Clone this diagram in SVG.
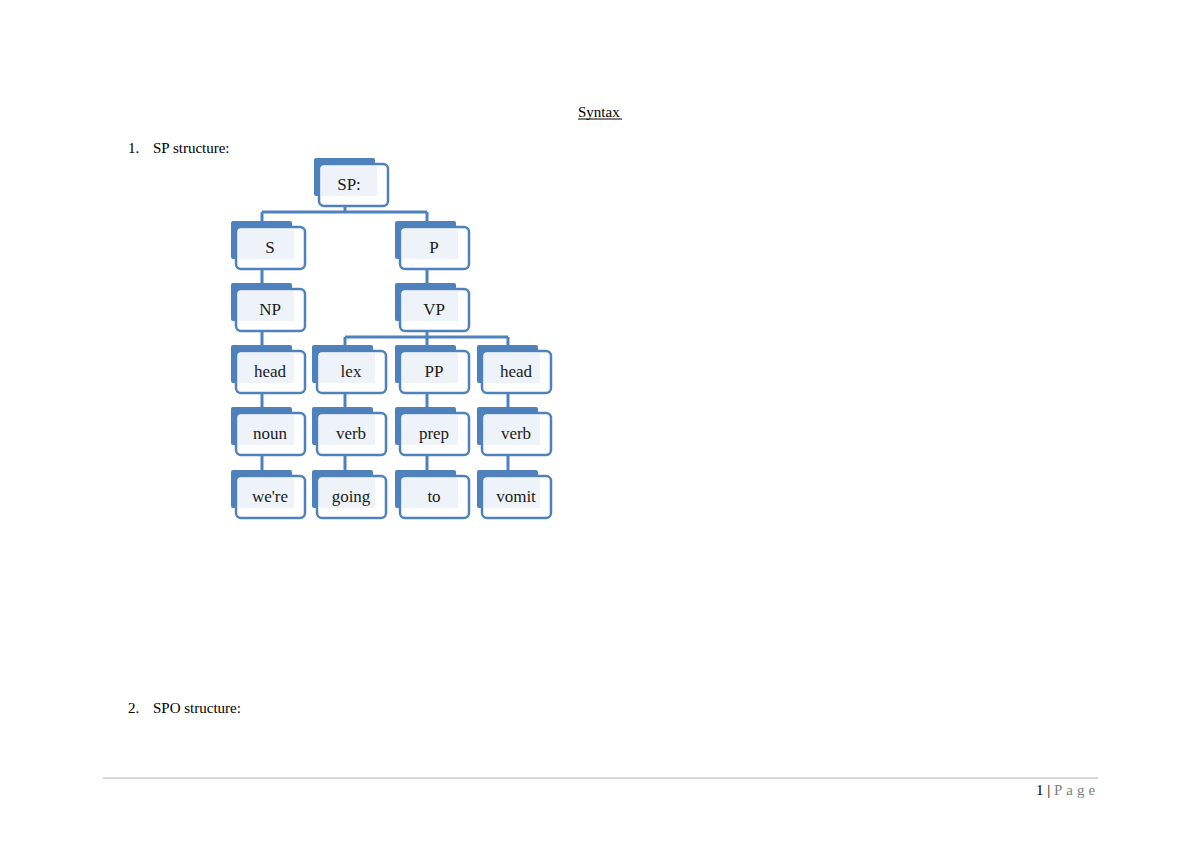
<svg xmlns="http://www.w3.org/2000/svg" width="1200" height="848" viewBox="0 0 1200 848">
<style>
.page{font-family:"Liberation Serif","Times New Roman",serif;fill:#000;font-size:15px}
.lbl{font-family:"Liberation Serif","Times New Roman",serif;fill:#1a1a1a;font-size:17px;text-anchor:middle}
.back{fill:#4f81bd}
.front{fill:#ffffff;stroke:#4f81bd;stroke-width:2.5}
.inner{fill:#eef3f9}
.conn{stroke:#4f81bd;stroke-width:3;fill:none}
</style>
<defs>
<g id="box">
<rect class="back" x="-5" y="-6" width="61" height="38" rx="2"/>
<rect class="front" x="0" y="0" width="69" height="42" rx="5"/>
<rect class="inner" x="2" y="2" width="56" height="30"/>
</g>
</defs>
<rect width="1200" height="848" fill="#ffffff"/>
<text class="page" x="578" y="117">Syntax</text>
<line x1="578" y1="119" x2="622" y2="119" stroke="#000" stroke-width="1"/>
<text class="page" x="128" y="153">1.</text>
<text class="page" x="153" y="153">SP structure:</text>
<text class="page" x="128" y="713">2.</text>
<text class="page" x="153" y="713">SPO structure:</text>
<line x1="103" y1="778" x2="1098" y2="778" stroke="#d9d9d9" stroke-width="2"/>
<text class="page" x="1036" y="795" font-size="14">1 | <tspan fill="#7f7f7f" letter-spacing="4">Page</tspan></text>

<g id="connectors">
<path class="conn" d="M345 207V212M262 212H427M262 212V227M427 212V227"/>
<path class="conn" d="M262 269V289M262 331V351M262 393V413M262 456V476"/>
<path class="conn" d="M427 269V289M427 331V337M345 337H508M345 337V351M427 337V351M508 337V351"/>
<path class="conn" d="M345 393V413M345 456V476M427 393V413M427 456V476M508 393V413M508 456V476"/>
</g>

<g id="n-sp"><use href="#box" x="319" y="164"/><text class="lbl" x="349" y="190">SP:</text></g>
<g id="n-s"><use href="#box" x="236" y="227"/><text class="lbl" x="270" y="253">S</text></g>
<g id="n-p"><use href="#box" x="400" y="227"/><text class="lbl" x="434" y="253">P</text></g>
<g id="n-np"><use href="#box" x="236" y="289"/><text class="lbl" x="270" y="315">NP</text></g>
<g id="n-vp"><use href="#box" x="400" y="289"/><text class="lbl" x="434" y="315">VP</text></g>
<g id="n-head1"><use href="#box" x="236" y="351"/><text class="lbl" x="270" y="377">head</text></g>
<g id="n-lex"><use href="#box" x="317" y="351"/><text class="lbl" x="351" y="377">lex</text></g>
<g id="n-pp"><use href="#box" x="400" y="351"/><text class="lbl" x="434" y="377">PP</text></g>
<g id="n-head2"><use href="#box" x="482" y="351"/><text class="lbl" x="516" y="377">head</text></g>
<g id="n-noun"><use href="#box" x="236" y="413"/><text class="lbl" x="270" y="439">noun</text></g>
<g id="n-verb1"><use href="#box" x="317" y="413"/><text class="lbl" x="351" y="439">verb</text></g>
<g id="n-prep"><use href="#box" x="400" y="413"/><text class="lbl" x="434" y="439">prep</text></g>
<g id="n-verb2"><use href="#box" x="482" y="413"/><text class="lbl" x="516" y="439">verb</text></g>
<g id="n-were"><use href="#box" x="236" y="476"/><text class="lbl" x="270" y="502">we're</text></g>
<g id="n-going"><use href="#box" x="317" y="476"/><text class="lbl" x="351" y="502">going</text></g>
<g id="n-to"><use href="#box" x="400" y="476"/><text class="lbl" x="434" y="502">to</text></g>
<g id="n-vomit"><use href="#box" x="482" y="476"/><text class="lbl" x="516" y="502">vomit</text></g>
</svg>
